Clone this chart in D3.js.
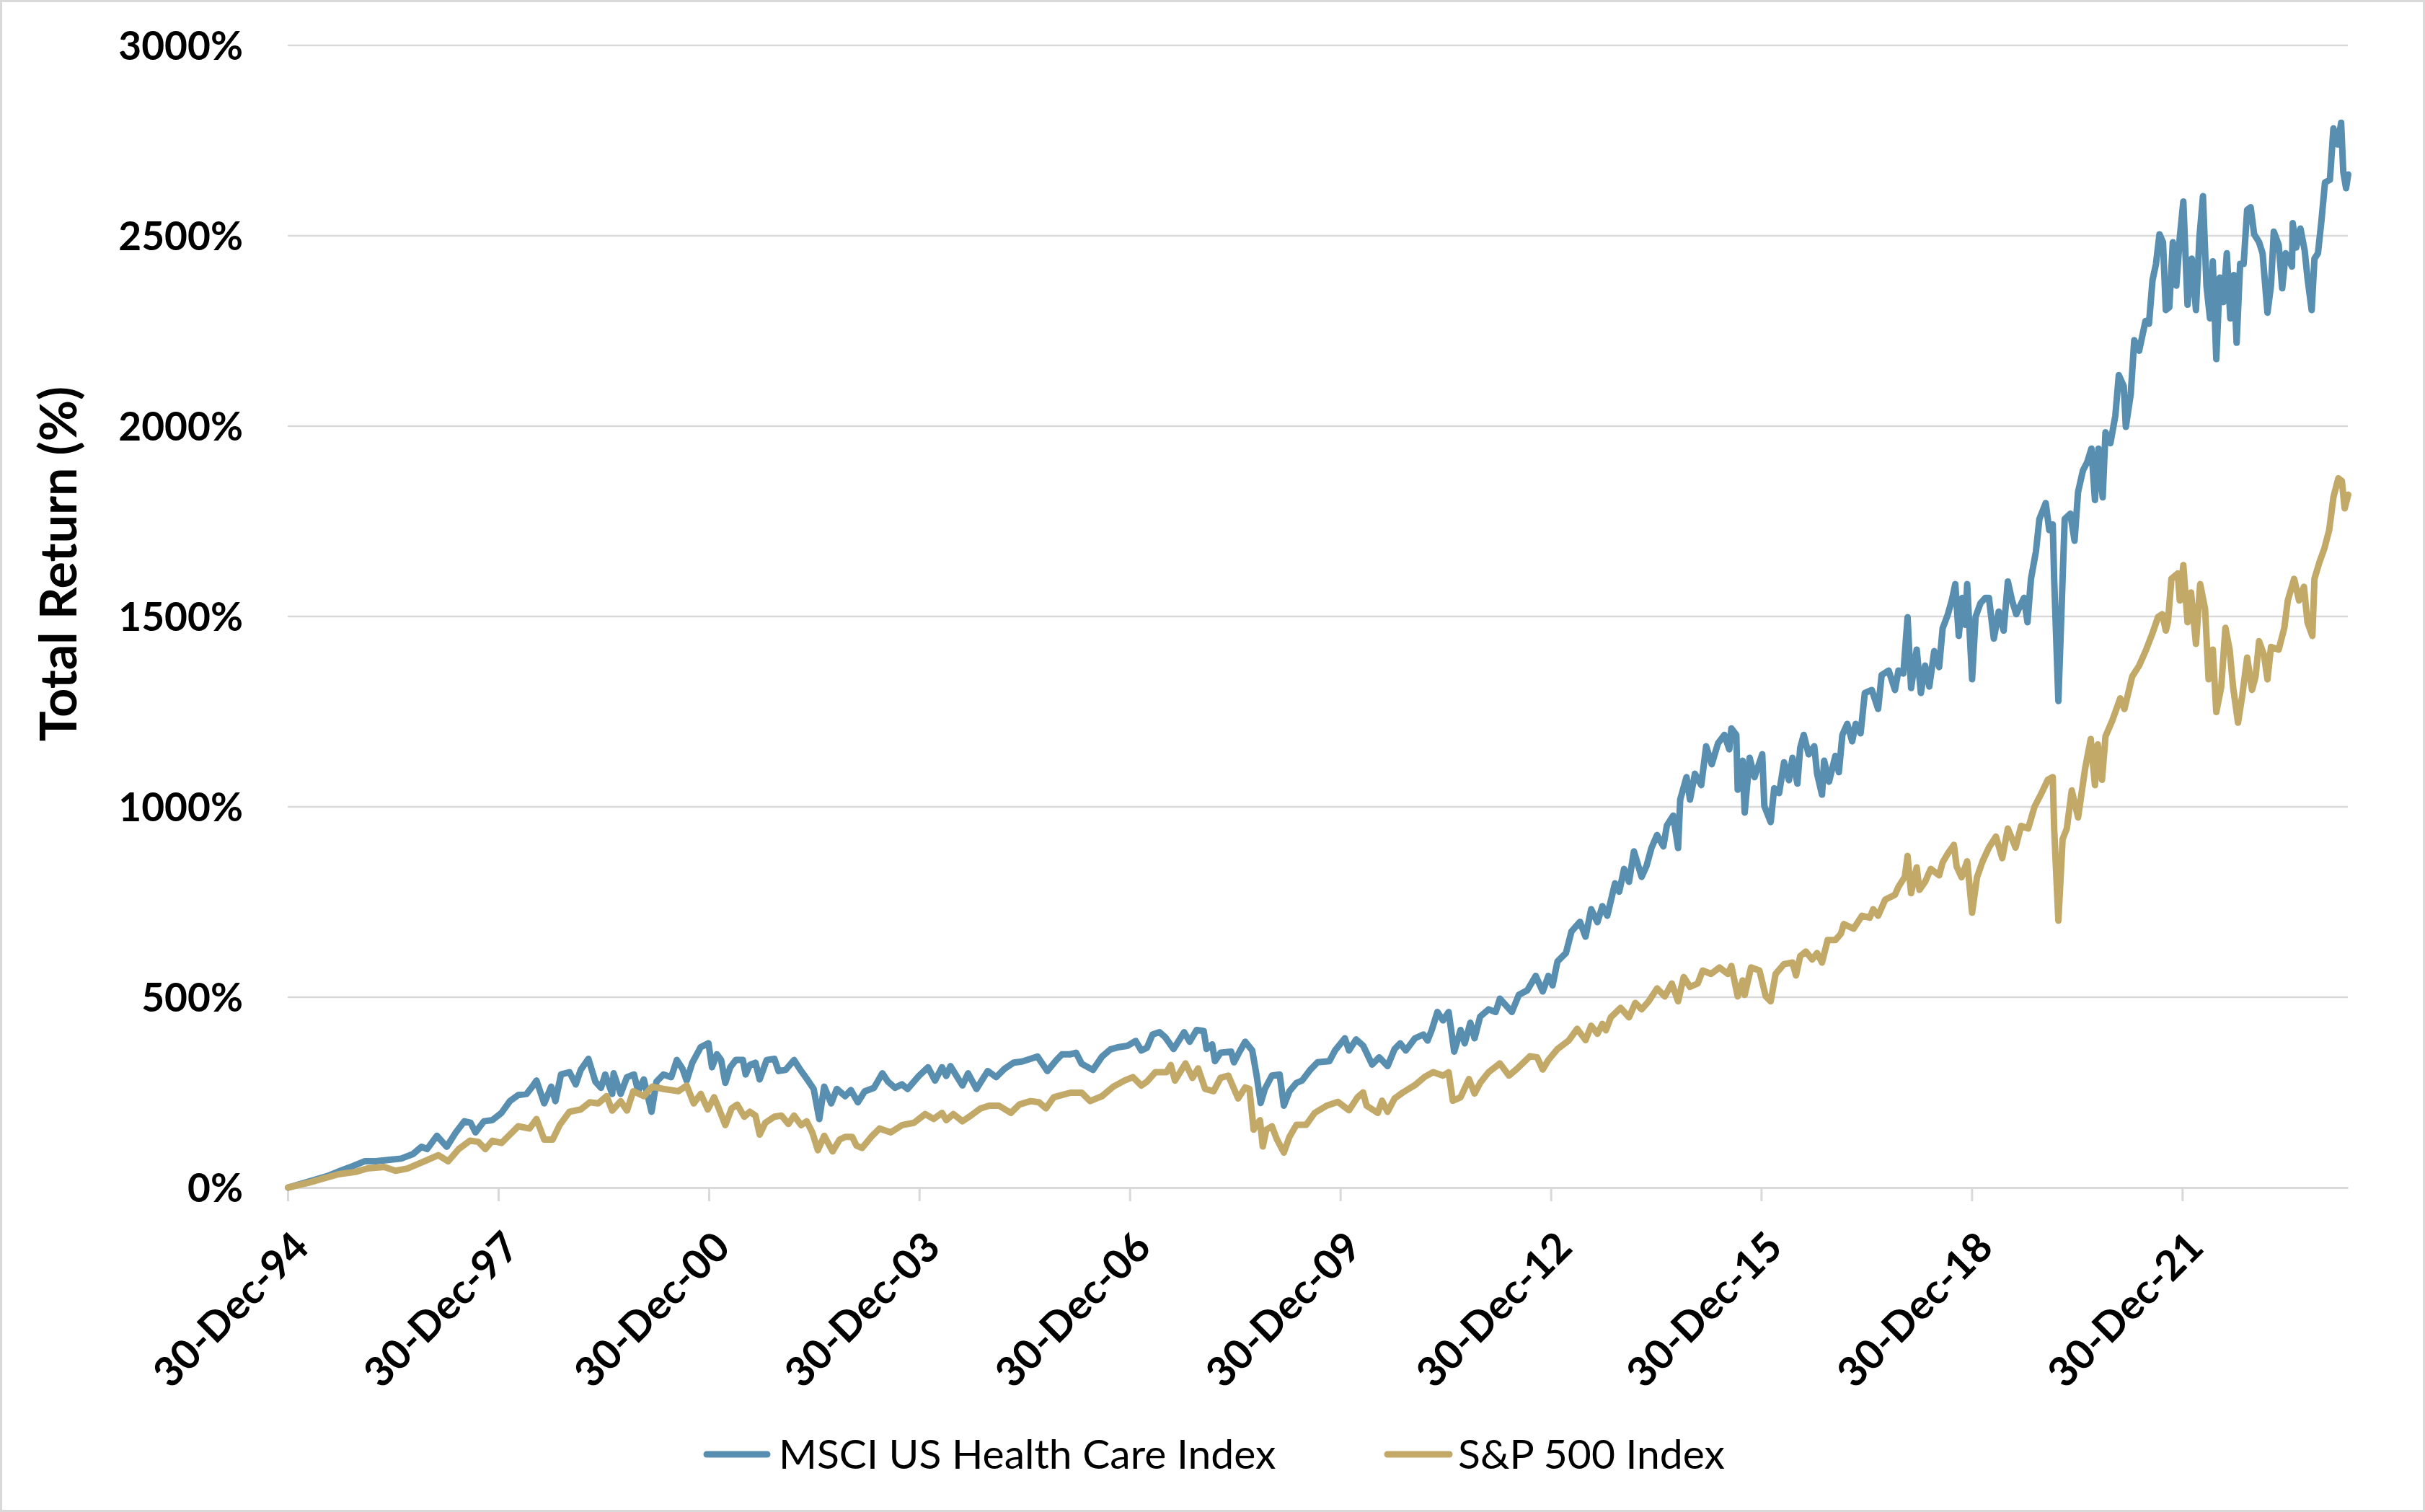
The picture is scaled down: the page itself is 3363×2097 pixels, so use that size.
<!DOCTYPE html>
<html>
<head>
<meta charset="utf-8">
<script src="https://cdn.jsdelivr.net/npm/d3@7"></script>
<style>
  html, body { margin: 0; padding: 0; background: #fff; }
  svg { display: block; }
</style>
</head>
<body>
<svg id="chart" width="3363" height="2097"></svg>
<script>
// ---------------- DATA (decimal years, total return %) ----------------
const seriesNames = ["MSCI US Health Care Index", "S&P 500 Index"];
const yTickValues = [0, 500, 1000, 1500, 2000, 2500, 3000];
const xTickYears = [1994, 1997, 2000, 2003, 2006, 2009, 2012, 2015, 2018, 2021];
const startDate = "1994-12-30";
const endDate = "2024-05-10";

const hcYears = [
1995.0,1995.3,1995.56,1995.76,1995.92,1996.09,1996.25,1996.45,1996.61,1996.78,1996.9,1996.98,
1997.12,1997.26,1997.39,1997.51,1997.6,1997.67,1997.79,1997.91,1998.04,1998.16,1998.28,1998.4,
1998.48,1998.54,1998.65,1998.75,1998.81,1998.89,1999.01,1999.1,1999.17,1999.28,1999.38,1999.46,
1999.52,1999.62,1999.64,1999.74,1999.83,1999.93,1999.99,2000.07,2000.18,2000.25,2000.35,2000.46,
2000.54,2000.62,2000.68,2000.76,2000.88,2000.99,2001.04,2001.11,2001.17,2001.23,2001.3,2001.38,
2001.48,2001.52,2001.58,2001.66,2001.72,2001.82,2001.93,2001.99,2002.09,2002.21,2002.29,2002.41,
2002.49,2002.57,2002.64,2002.74,2002.82,2002.94,2003.02,2003.12,2003.22,2003.35,2003.47,2003.55,
2003.65,2003.75,2003.83,2003.99,2004.12,2004.22,2004.32,2004.38,2004.44,2004.61,2004.69,2004.81,
2004.97,2005.09,2005.21,2005.34,2005.46,2005.58,2005.68,2005.82,2005.95,2006.03,2006.15,2006.23,
2006.31,2006.47,2006.6,2006.72,2006.84,2006.96,2007.08,2007.16,2007.24,2007.32,2007.42,2007.5,
2007.62,2007.77,2007.85,2007.95,2008.05,2008.09,2008.17,2008.21,2008.29,2008.44,2008.48,2008.56,
2008.64,2008.74,2008.8,2008.86,2008.92,2009.02,2009.13,2009.19,2009.27,2009.37,2009.45,2009.57,
2009.67,2009.84,2009.92,2010.06,2010.12,2010.22,2010.32,2010.45,2010.55,2010.67,2010.77,2010.85,
2010.93,2011.06,2011.18,2011.24,2011.3,2011.38,2011.46,2011.54,2011.62,2011.71,2011.77,2011.85,
2011.91,2011.99,2012.11,2012.21,2012.27,2012.44,2012.54,2012.66,2012.78,2012.88,2012.96,2013.02,
2013.09,2013.21,2013.29,2013.41,2013.49,2013.57,2013.66,2013.73,2013.8,2013.91,2013.97,2014.04,
2014.11,2014.18,2014.29,2014.36,2014.43,2014.51,2014.6,2014.65,2014.74,2014.81,2014.84,2014.93,
2014.98,2015.05,2015.14,2015.21,2015.29,2015.38,2015.47,2015.54,2015.57,2015.64,2015.66,2015.73,
2015.76,2015.83,2015.9,2016.01,2016.04,2016.13,2016.18,2016.25,2016.32,2016.39,2016.44,2016.51,
2016.55,2016.6,2016.67,2016.75,2016.79,2016.86,2016.89,2016.96,2017.05,2017.1,2017.15,2017.22,
2017.29,2017.34,2017.41,2017.47,2017.57,2017.66,2017.71,2017.81,2017.9,2017.95,2018.02,2018.08,
2018.13,2018.21,2018.27,2018.33,2018.39,2018.46,2018.53,2018.58,2018.65,2018.71,2018.76,2018.81,
2018.86,2018.9,2018.93,2019.0,2019.05,2019.12,2019.19,2019.24,2019.31,2019.38,2019.45,2019.51,
2019.57,2019.63,2019.74,2019.79,2019.84,2019.91,2019.96,2020.05,2020.1,2020.15,2020.17,2020.23,
2020.29,2020.32,2020.4,2020.46,2020.51,2020.58,2020.64,2020.7,2020.75,2020.8,2020.86,2020.9,
2020.97,2021.04,2021.09,2021.16,2021.19,2021.26,2021.31,2021.38,2021.47,2021.52,2021.57,2021.62,
2021.67,2021.72,2021.76,2021.81,2021.86,2021.91,2021.96,2022.01,2022.07,2022.13,2022.19,2022.24,
2022.29,2022.34,2022.39,2022.43,2022.48,2022.53,2022.58,2022.63,2022.68,2022.73,2022.77,2022.82,
2022.87,2022.92,2022.97,2023.02,2023.09,2023.14,2023.21,2023.26,2023.3,2023.37,2023.42,2023.47,
2023.56,2023.57,2023.62,2023.68,2023.74,2023.78,2023.84,2023.88,2023.93,2023.98,2024.03,2024.1,
2024.15,2024.21,2024.26,2024.29,2024.33,2024.36];
const hcValues = [
0,16,30,45,56,69,69,73,76,88,107,101,
136,107,145,174,170,145,174,177,196,227,243,246,
265,281,221,265,227,297,303,271,309,338,278,262,
297,246,300,246,290,297,253,284,199,278,297,290,
335,312,281,328,369,379,316,350,335,275,316,335,
335,297,322,328,284,335,338,306,309,335,312,281,
259,180,265,221,259,240,256,224,253,262,300,278,
262,271,259,293,316,281,316,293,319,268,300,259,
306,290,312,328,331,338,344,306,335,350,350,354,
325,309,344,363,369,372,385,360,367,402,408,395,
364,408,383,414,411,364,376,332,354,357,329,357,
383,360,297,222,259,294,297,215,253,275,281,310,
329,332,360,392,360,389,373,323,342,319,364,379,
360,392,402,386,414,461,439,461,357,414,379,433,
392,449,468,461,496,461,506,518,556,515,556,531,
594,616,673,698,659,731,697,739,714,799,777,837,
803,883,816,845,892,926,896,951,977,892,1019,1078,
1019,1087,1057,1159,1112,1167,1189,1151,1206,1189,1045,1121,
985,1129,1078,1138,1002,960,1049,1036,1117,1070,1129,1061,
1155,1189,1138,1159,1087,1032,1121,1066,1134,1091,1189,1218,
1172,1218,1193,1299,1307,1257,1346,1358,1307,1358,1350,1498,
1312,1413,1299,1371,1316,1409,1367,1469,1503,1542,1585,1449,
1549,1478,1585,1335,1499,1535,1549,1549,1442,1513,1463,1592,
1542,1506,1549,1485,1599,1670,1756,1798,1727,1742,1599,1278,
1599,1756,1770,1699,1827,1884,1905,1941,1806,1941,1813,1984,
1955,2027,2134,2105,1998,2084,2226,2198,2276,2269,2383,2426,
2504,2483,2305,2312,2483,2369,2497,2590,2319,2440,2305,2497,
2604,2369,2283,2433,2176,2390,2326,2454,2283,2397,2219,2426,
2426,2568,2575,2504,2483,2454,2298,2369,2511,2476,2362,2454,
2419,2533,2469,2519,2462,2390,2305,2440,2454,2540,2640,2647,
2782,2740,2797,2668,2625,2661];

const spYears = [
1995.0,1995.3,1995.72,1995.96,1996.13,1996.37,1996.53,1996.7,1996.94,1997.14,1997.28,1997.43,
1997.59,1997.71,1997.81,1997.91,1998.04,1998.16,1998.28,1998.44,1998.54,1998.65,1998.77,1998.87,
1999.01,1999.17,1999.3,1999.42,1999.54,1999.62,1999.74,1999.83,1999.92,2000.07,2000.19,2000.35,
2000.56,2000.68,2000.78,2000.88,2000.98,2001.07,2001.13,2001.23,2001.32,2001.4,2001.5,2001.58,
2001.66,2001.72,2001.8,2001.93,2002.03,2002.13,2002.21,2002.31,2002.39,2002.47,2002.55,2002.64,
2002.76,2002.86,2002.94,2003.04,2003.1,2003.18,2003.31,2003.43,2003.59,2003.75,2003.92,2004.08,
2004.2,2004.32,2004.38,2004.48,2004.61,2004.73,2004.87,2004.99,2005.13,2005.3,2005.42,2005.58,
2005.7,2005.8,2005.91,2006.03,2006.15,2006.31,2006.43,2006.6,2006.76,2006.92,2007.04,2007.16,
2007.24,2007.36,2007.52,2007.58,2007.64,2007.79,2007.89,2007.97,2008.07,2008.19,2008.29,2008.4,
2008.54,2008.64,2008.7,2008.76,2008.85,2008.89,2008.94,2009.02,2009.09,2009.19,2009.27,2009.37,
2009.51,2009.63,2009.8,2009.96,2010.12,2010.24,2010.32,2010.37,2010.53,2010.59,2010.67,2010.77,
2010.89,2011.06,2011.2,2011.32,2011.46,2011.54,2011.6,2011.71,2011.83,2011.91,2011.99,2012.11,
2012.27,2012.4,2012.52,2012.7,2012.8,2012.88,2012.96,2013.09,2013.25,2013.37,2013.49,2013.57,
2013.66,2013.73,2013.78,2013.85,2013.99,2014.11,2014.2,2014.29,2014.39,2014.51,2014.62,2014.72,
2014.81,2014.89,2014.98,2015.09,2015.16,2015.28,2015.4,2015.52,2015.57,2015.66,2015.73,2015.76,
2015.85,2015.97,2016.06,2016.13,2016.2,2016.32,2016.44,2016.49,2016.55,2016.63,2016.72,2016.79,
2016.86,2016.94,2017.05,2017.13,2017.17,2017.31,2017.43,2017.54,2017.59,2017.66,2017.76,2017.9,
2017.95,2018.04,2018.08,2018.13,2018.21,2018.25,2018.33,2018.41,2018.53,2018.58,2018.66,2018.74,
2018.78,2018.85,2018.93,2019.0,2019.07,2019.15,2019.24,2019.34,2019.43,2019.51,2019.62,2019.7,
2019.8,2019.89,2019.99,2020.08,2020.15,2020.17,2020.23,2020.29,2020.35,2020.42,2020.51,2020.61,
2020.69,2020.75,2020.79,2020.85,2020.9,2021.0,2021.11,2021.17,2021.28,2021.38,2021.48,2021.57,
2021.65,2021.71,2021.76,2021.79,2021.84,2021.93,2021.96,2022.01,2022.07,2022.12,2022.19,2022.25,
2022.32,2022.37,2022.43,2022.48,2022.55,2022.61,2022.67,2022.72,2022.79,2022.85,2022.92,2022.99,
2023.04,2023.09,2023.16,2023.21,2023.26,2023.37,2023.45,2023.5,2023.59,2023.66,2023.73,2023.78,
2023.85,2023.88,2023.95,2024.02,2024.09,2024.15,2024.22,2024.27,2024.31,2024.36];
const spValues = [
0,13,35,41,50,54,44,50,69,85,69,101,
123,120,101,123,117,139,161,155,180,126,126,164,
199,205,224,221,240,202,227,202,253,240,265,259,
253,268,221,246,205,237,211,164,208,218,186,199,
189,139,170,186,189,167,189,164,174,145,98,136,
95,126,133,133,110,104,133,155,145,164,170,193,
180,196,177,193,174,189,208,215,215,196,218,227,
224,208,237,243,249,249,227,240,265,281,290,268,
278,303,303,322,281,326,288,313,259,253,288,294,
234,263,259,152,177,108,152,161,127,92,133,165,
165,196,215,225,203,237,250,215,196,228,199,234,
250,269,291,303,294,303,228,237,285,247,275,303,
326,294,313,345,342,310,335,364,386,417,387,425,
404,430,413,447,472,447,485,468,489,523,502,536,
489,553,527,536,570,561,578,561,582,502,544,506,
578,570,502,489,561,587,591,557,608,620,599,616,
591,650,650,667,692,680,714,709,731,714,756,769,
790,816,871,773,841,782,803,837,820,854,879,900,
843,815,857,722,815,857,893,922,865,943,893,950,
943,1000,1036,1071,1078,943,701,915,943,1043,972,1100,
1178,1057,1164,1071,1185,1228,1285,1257,1342,1371,1413,1456,
1499,1506,1463,1485,1599,1613,1542,1635,1485,1563,1428,1585,
1520,1335,1413,1249,1314,1470,1413,1314,1221,1292,1392,1307,
1342,1435,1399,1335,1420,1413,1470,1542,1599,1542,1578,1485,
1449,1599,1642,1678,1727,1813,1863,1856,1784,1820];

// ---------------- CHART ----------------
const W = 3363, H = 2097;
const margin = { left: 399, right: W - 3256, top: 63, bottom: H - 1647 };
const colors = ["#588FB0", "#C3A968"];
const gridColor = "#D9D9D9";
const fontFamily = "Lato, 'Open Sans', sans-serif";

function decToDate(y) {
  const yr = Math.floor(y);
  const start = new Date(yr, 0, 1).getTime();
  const end = new Date(yr + 1, 0, 1).getTime();
  return new Date(start + (y - yr) * (end - start));
}

const svg = d3.select("#chart");
svg.append("rect").attr("x", 0).attr("y", 0).attr("width", W).attr("height", H).attr("fill", "#fff");
svg.append("rect").attr("x", 1.5).attr("y", 1.5).attr("width", W - 3).attr("height", H - 3)
  .attr("fill", "none").attr("stroke", gridColor).attr("stroke-width", 3);

const x = d3.scaleTime()
  .domain([d3.timeParse("%Y-%m-%d")(startDate), d3.timeParse("%Y-%m-%d")(endDate)])
  .range([margin.left, W - margin.right]);
const y = d3.scaleLinear().domain([0, 3000]).range([H - margin.bottom, margin.top]);

// gridlines
svg.append("g").selectAll("line").data(yTickValues.filter(v => v > 0)).join("line")
  .attr("x1", margin.left).attr("x2", W - margin.right)
  .attr("y1", d => y(d)).attr("y2", d => y(d))
  .attr("stroke", gridColor).attr("stroke-width", 2.6);

// y axis labels
const yAxis = d3.axisLeft(y).tickValues(yTickValues).tickFormat(d => d + "%").tickSize(0).tickPadding(0);
const gy = svg.append("g").attr("transform", `translate(337,0)`).call(yAxis);
gy.select(".domain").remove();
gy.selectAll("text")
  .attr("font-family", fontFamily).attr("font-weight", 700).attr("font-size", 55)
  .attr("fill", "#000").attr("dy", "0.36em").attr("x", 0);

// x axis
const xTicks = xTickYears.map(yr => new Date(yr, 11, 30));
const xAxis = d3.axisBottom(x).tickValues(xTicks).tickFormat(d3.timeFormat("%d-%b-%y")).tickSize(19).tickSizeOuter(0);
const gx = svg.append("g").attr("transform", `translate(0,${H - margin.bottom})`).call(xAxis);
gx.select(".domain").attr("stroke", gridColor).attr("stroke-width", 3);
gx.selectAll(".tick line").attr("stroke", gridColor).attr("stroke-width", 3);
gx.selectAll(".tick text")
  .attr("font-family", fontFamily).attr("font-weight", 700).attr("font-size", 57).attr("fill", "#000")
  .attr("text-anchor", "end").attr("y", 0).attr("dy", 0)
  .attr("transform", "translate(32,86) rotate(-45)");

// y axis title
svg.append("text")
  .attr("transform", `translate(106,782) rotate(-90)`)
  .attr("text-anchor", "middle")
  .attr("font-family", fontFamily).attr("font-weight", 700).attr("font-size", 70).attr("fill", "#000")
  .text("Total Return (%)");

// lines
const line = d3.line().x(d => x(d[0])).y(d => y(d[1])).curve(d3.curveLinear);
const hcData = hcYears.map((yr, i) => [decToDate(yr), hcValues[i]]);
const spData = spYears.map((yr, i) => [decToDate(yr), spValues[i]]);
svg.append("path").datum(hcData).attr("d", line).attr("fill", "none")
  .attr("stroke", colors[0]).attr("stroke-width", 9).attr("stroke-linejoin", "round").attr("stroke-linecap", "round");
svg.append("path").datum(spData).attr("d", line).attr("fill", "none")
  .attr("stroke", colors[1]).attr("stroke-width", 9).attr("stroke-linejoin", "round").attr("stroke-linecap", "round");

// legend
const legendItems = [
  { name: seriesNames[0], color: colors[0], x0: 980, x1: 1064, tx: 1080 },
  { name: seriesNames[1], color: colors[1], x0: 1924, x1: 2010, tx: 2022 }
];
const lg = svg.append("g");
legendItems.forEach(it => {
  lg.append("line").attr("x1", it.x0).attr("x2", it.x1).attr("y1", 2017).attr("y2", 2017)
    .attr("stroke", it.color).attr("stroke-width", 9).attr("stroke-linecap", "round");
  lg.append("text").attr("x", it.tx).attr("y", 2037)
    .attr("font-family", fontFamily).attr("font-size", 57).attr("fill", "#000")
    .text(it.name);
});
</script>
</body>
</html>
